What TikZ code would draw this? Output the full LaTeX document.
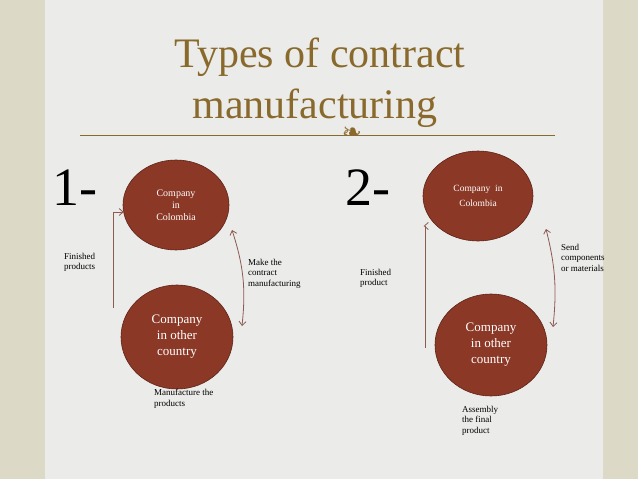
\documentclass[tikz,border=0pt]{standalone}
\usepackage{fontspec}
\setmainfont{Liberation Serif}
\newfontfamily\dej{DejaVu Sans}
\usetikzlibrary{arrows.meta,shapes.geometric}
\definecolor{bg}{HTML}{EBEBEA}
\definecolor{strip}{HTML}{DCD9C6}
\definecolor{ttl}{HTML}{8A6A2C}
\definecolor{ell}{HTML}{8B3826}
\definecolor{ellb}{HTML}{5E2418}
\definecolor{arr}{HTML}{8E5A50}
\tikzset{
  comp/.style={ellipse, fill=ell, draw=ellb, line width=0.6pt, text=white, align=center, inner sep=0pt},
  lbl/.style={align=left, font=\fontsize{9}{10.5}\selectfont, anchor=north west, inner sep=0pt},
  conn/.style={draw=arr, line width=0.8pt, -{Straight Barb[length=4pt,width=7pt]}},
  conn2/.style={draw=arr, line width=0.8pt, {Straight Barb[length=4pt,width=7pt]}-{Straight Barb[length=4pt,width=7pt]}}
}
\begin{document}
\begin{tikzpicture}[x=1pt,y=-1pt]
\fill[bg] (0,0) rectangle (638,479);
\fill[strip] (0,0) rectangle (45,479);
\fill[strip] (603,0) rectangle (638,479);
\useasboundingbox (0,0) rectangle (638,479);
\node[text=ttl, font=\fontsize{42}{46}\selectfont] (t1) at (320,57) {Types of contract};
\node[text=ttl, font=\fontsize{42}{46}\selectfont] (t2) at (315,108) {manufacturing};
\draw[ttl, line width=0.5pt] (80,135) -- (555,135);
\node[text=ttl, font=\dej\fontsize{24}{24}\selectfont] (orn) at (352,134) {❧};
\node[font=\fontsize{54}{54}\selectfont] (n1) at (75,188) {1-};
\node[font=\fontsize{54}{54}\selectfont] (n2) at (368,188) {2-};
\node[comp, minimum width=106pt, minimum height=90pt, font=\fontsize{10}{12}\selectfont] (a1) at (176,205) {Company\\in\\Colombia};
\node[comp, minimum width=112pt, minimum height=104pt, font=\fontsize{13}{16}\selectfont] (b1) at (177,337) {Company\\in other\\country};
\node[comp, minimum width=110pt, minimum height=90pt, font=\fontsize{9.5}{15}\selectfont] (a2) at (478,196) {Company\ \ in\\Colombia};
\node[comp, minimum width=112pt, minimum height=102pt, font=\fontsize{13}{16}\selectfont] (b2) at (491,345) {Company\\in other\\country};
\coordinate (s1) at (113,308);
\coordinate (s2) at (425,348);
\coordinate (c1) at (232,230);
\coordinate (d1) at (242,326);
\coordinate (c2) at (546,229);
\coordinate (d2) at (553,327);
\draw[conn] (s1) |- ([xshift=1pt]a1.west |- 0,212);
\draw[conn] (s2) |- ([xshift=1pt]a2.west |- 0,226);
\draw[conn2] (c1) to[bend left=12] (d1);
\draw[conn2] (c2) to[bend left=10] (d2);
\node[lbl] (l1) at (64,253) {Finished\\products};
\node[lbl] (l2) at (248,259) {Make the\\contract\\manufacturing};
\node[lbl] (l3) at (154,389) {Manufacture the\\products};
\node[lbl] (l4) at (360,269) {Finished\\product};
\node[lbl] (l5) at (561,244) {Send\\components\\or materials};
\node[lbl] (l6) at (462,406) {Assembly\\the final\\product};
\end{tikzpicture}
\end{document}
